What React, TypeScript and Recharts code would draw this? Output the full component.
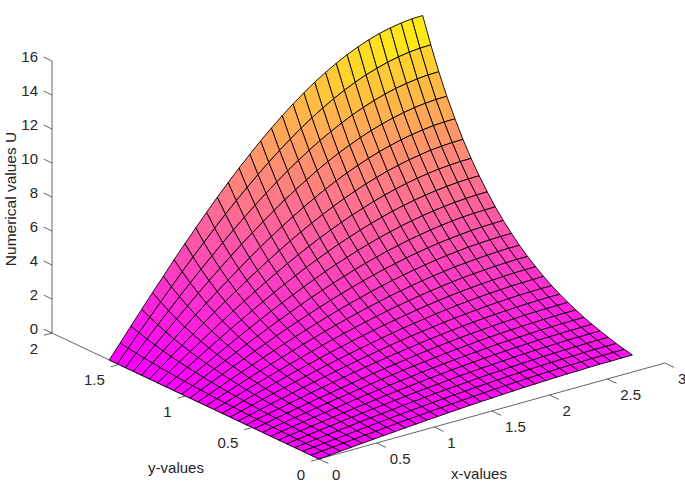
import React from "react";
import { ScatterChart, Scatter, XAxis, YAxis } from "recharts";

const xValues = [0, 0.094, 0.187, 0.281, 0.375, 0.469, 0.562, 0.656, 0.75, 0.844, 0.937, 1.031, 1.125, 1.219, 1.312, 1.406, 1.5, 1.593, 1.687, 1.781, 1.875, 1.968, 2.062, 2.156, 2.25, 2.343, 2.437, 2.531, 2.624, 2.718];
const yValues = [0, 0.06, 0.121, 0.181, 0.242, 0.302, 0.362, 0.423, 0.483, 0.544, 0.604, 0.665, 0.725, 0.785, 0.846, 0.906, 0.967, 1.027, 1.087, 1.148, 1.208, 1.269, 1.329, 1.39, 1.45, 1.51, 1.571];

// U, one row per y value
const uValues = [
  [0, 0.05, 0.11, 0.16, 0.22, 0.27, 0.32, 0.37, 0.42, 0.47, 0.52, 0.56, 0.61, 0.65, 0.69, 0.73, 0.76, 0.8, 0.83, 0.86, 0.88, 0.91, 0.93, 0.95, 0.96, 0.98, 0.99, 0.99, 1, 1],
  [0, 0.06, 0.12, 0.18, 0.24, 0.3, 0.35, 0.41, 0.47, 0.52, 0.57, 0.62, 0.67, 0.72, 0.76, 0.81, 0.85, 0.88, 0.92, 0.95, 0.98, 1.01, 1.03, 1.05, 1.07, 1.08, 1.1, 1.1, 1.11, 1.11],
  [0, 0.07, 0.13, 0.2, 0.27, 0.33, 0.39, 0.46, 0.52, 0.58, 0.64, 0.69, 0.75, 0.8, 0.85, 0.89, 0.94, 0.98, 1.02, 1.06, 1.09, 1.12, 1.15, 1.17, 1.19, 1.2, 1.22, 1.23, 1.23, 1.23],
  [0, 0.07, 0.15, 0.22, 0.29, 0.37, 0.44, 0.51, 0.57, 0.64, 0.71, 0.77, 0.83, 0.89, 0.94, 0.99, 1.04, 1.09, 1.13, 1.17, 1.21, 1.24, 1.27, 1.3, 1.32, 1.34, 1.35, 1.36, 1.37, 1.37],
  [0, 0.08, 0.16, 0.25, 0.33, 0.41, 0.49, 0.56, 0.64, 0.71, 0.78, 0.85, 0.92, 0.98, 1.04, 1.1, 1.16, 1.21, 1.26, 1.3, 1.34, 1.38, 1.41, 1.44, 1.46, 1.48, 1.5, 1.51, 1.52, 1.52],
  [0, 0.09, 0.18, 0.27, 0.36, 0.45, 0.54, 0.62, 0.71, 0.79, 0.87, 0.95, 1.02, 1.09, 1.16, 1.22, 1.29, 1.34, 1.4, 1.45, 1.49, 1.53, 1.57, 1.6, 1.63, 1.65, 1.66, 1.68, 1.68, 1.69],
  [0, 0.1, 0.2, 0.3, 0.4, 0.5, 0.6, 0.69, 0.79, 0.88, 0.97, 1.05, 1.13, 1.21, 1.29, 1.36, 1.43, 1.49, 1.55, 1.6, 1.65, 1.7, 1.74, 1.77, 1.8, 1.83, 1.85, 1.86, 1.87, 1.87],
  [0, 0.11, 0.22, 0.34, 0.45, 0.56, 0.66, 0.77, 0.87, 0.97, 1.07, 1.17, 1.26, 1.35, 1.43, 1.51, 1.58, 1.65, 1.72, 1.78, 1.84, 1.89, 1.93, 1.97, 2, 2.03, 2.05, 2.07, 2.08, 2.08],
  [0, 0.12, 0.25, 0.37, 0.5, 0.62, 0.74, 0.85, 0.97, 1.08, 1.19, 1.3, 1.4, 1.49, 1.59, 1.68, 1.76, 1.84, 1.91, 1.98, 2.04, 2.09, 2.14, 2.19, 2.22, 2.25, 2.28, 2.29, 2.3, 2.31],
  [0, 0.14, 0.28, 0.41, 0.55, 0.69, 0.82, 0.95, 1.08, 1.2, 1.32, 1.44, 1.55, 1.66, 1.76, 1.86, 1.95, 2.04, 2.12, 2.2, 2.26, 2.33, 2.38, 2.43, 2.47, 2.5, 2.53, 2.55, 2.56, 2.56],
  [0, 0.15, 0.31, 0.46, 0.61, 0.76, 0.91, 1.05, 1.19, 1.33, 1.47, 1.6, 1.72, 1.84, 1.96, 2.07, 2.17, 2.26, 2.35, 2.44, 2.51, 2.58, 2.64, 2.7, 2.74, 2.78, 2.81, 2.83, 2.84, 2.84],
  [0, 0.17, 0.34, 0.51, 0.68, 0.84, 1.01, 1.17, 1.33, 1.48, 1.63, 1.77, 1.91, 2.04, 2.17, 2.29, 2.41, 2.51, 2.61, 2.71, 2.79, 2.87, 2.93, 2.99, 3.04, 3.08, 3.12, 3.14, 3.15, 3.16],
  [0, 0.19, 0.38, 0.57, 0.75, 0.94, 1.12, 1.3, 1.47, 1.64, 1.81, 1.97, 2.12, 2.27, 2.41, 2.55, 2.67, 2.79, 2.9, 3, 3.1, 3.18, 3.26, 3.32, 3.38, 3.42, 3.46, 3.49, 3.5, 3.51],
  [0, 0.21, 0.42, 0.63, 0.84, 1.04, 1.24, 1.44, 1.63, 1.82, 2.01, 2.18, 2.36, 2.52, 2.68, 2.83, 2.97, 3.1, 3.22, 3.34, 3.44, 3.53, 3.62, 3.69, 3.75, 3.8, 3.84, 3.87, 3.89, 3.89],
  [0, 0.23, 0.47, 0.7, 0.93, 1.16, 1.38, 1.6, 1.81, 2.02, 2.23, 2.43, 2.62, 2.8, 2.97, 3.14, 3.29, 3.44, 3.58, 3.7, 3.82, 3.92, 4.01, 4.1, 4.16, 4.22, 4.26, 4.3, 4.32, 4.32],
  [0, 0.26, 0.52, 0.78, 1.03, 1.28, 1.53, 1.78, 2.01, 2.25, 2.47, 2.69, 2.9, 3.11, 3.3, 3.48, 3.66, 3.82, 3.97, 4.11, 4.24, 4.35, 4.46, 4.55, 4.62, 4.69, 4.73, 4.77, 4.79, 4.8],
  [0, 0.29, 0.58, 0.86, 1.15, 1.42, 1.7, 1.97, 2.24, 2.5, 2.75, 2.99, 3.22, 3.45, 3.66, 3.87, 4.06, 4.24, 4.41, 4.56, 4.71, 4.83, 4.95, 5.05, 5.13, 5.2, 5.26, 5.3, 5.32, 5.33],
  [0, 0.32, 0.64, 0.96, 1.27, 1.58, 1.89, 2.19, 2.48, 2.77, 3.05, 3.32, 3.58, 3.83, 4.07, 4.29, 4.51, 4.71, 4.89, 5.07, 5.22, 5.37, 5.49, 5.6, 5.7, 5.78, 5.84, 5.88, 5.9, 5.91],
  [0, 0.36, 0.71, 1.06, 1.41, 1.76, 2.1, 2.43, 2.76, 3.08, 3.39, 3.68, 3.97, 4.25, 4.52, 4.77, 5, 5.23, 5.43, 5.63, 5.8, 5.96, 6.1, 6.22, 6.33, 6.41, 6.48, 6.53, 6.56, 6.57],
  [0, 0.39, 0.79, 1.18, 1.57, 1.95, 2.33, 2.7, 3.06, 3.41, 3.76, 4.09, 4.41, 4.72, 5.01, 5.29, 5.56, 5.8, 6.03, 6.25, 6.44, 6.62, 6.77, 6.91, 7.02, 7.12, 7.19, 7.25, 7.28, 7.29],
  [0, 0.44, 0.87, 1.31, 1.74, 2.16, 2.58, 3, 3.4, 3.79, 4.17, 4.54, 4.9, 5.24, 5.57, 5.88, 6.17, 6.44, 6.7, 6.93, 7.15, 7.34, 7.52, 7.67, 7.8, 7.9, 7.99, 8.04, 8.08, 8.09],
  [0, 0.49, 0.97, 1.45, 1.93, 2.4, 2.87, 3.33, 3.77, 4.21, 4.63, 5.04, 5.44, 5.82, 6.18, 6.52, 6.85, 7.15, 7.44, 7.7, 7.94, 8.15, 8.35, 8.51, 8.66, 8.77, 8.87, 8.93, 8.97, 8.98],
  [0, 0.54, 1.08, 1.61, 2.14, 2.67, 3.18, 3.69, 4.19, 4.67, 5.14, 5.6, 6.04, 6.46, 6.86, 7.24, 7.6, 7.94, 8.26, 8.55, 8.81, 9.05, 9.27, 9.45, 9.61, 9.74, 9.84, 9.92, 9.96, 9.97],
  [0, 0.6, 1.2, 1.79, 2.38, 2.96, 3.54, 4.1, 4.65, 5.19, 5.71, 6.21, 6.7, 7.17, 7.62, 8.04, 8.44, 8.82, 9.17, 9.49, 9.78, 10.05, 10.29, 10.49, 10.67, 10.81, 10.93, 11.01, 11.06, 11.07],
  [0, 0.67, 1.33, 1.99, 2.64, 3.29, 3.93, 4.55, 5.16, 5.76, 6.34, 6.9, 7.44, 7.96, 8.45, 8.93, 9.37, 9.79, 10.18, 10.53, 10.86, 11.16, 11.42, 11.65, 11.85, 12.01, 12.13, 12.22, 12.28, 12.29],
  [0, 0.74, 1.48, 2.21, 2.93, 3.65, 4.36, 5.05, 5.73, 6.39, 7.04, 7.66, 8.26, 8.84, 9.39, 9.91, 10.4, 10.87, 11.3, 11.7, 12.06, 12.39, 12.68, 12.94, 13.15, 13.33, 13.47, 13.57, 13.63, 13.65],
  [0, 0.82, 1.64, 2.45, 3.26, 4.05, 4.84, 5.61, 6.36, 7.1, 7.81, 8.5, 9.17, 9.81, 10.42, 11, 11.55, 12.06, 12.54, 12.99, 13.39, 13.75, 14.08, 14.36, 14.6, 14.8, 14.95, 15.06, 15.13, 15.15],
];

const xTicks = [0, 0.5, 1, 1.5, 2, 2.5, 3];
const yTicks = [0, 0.5, 1, 1.5, 2];
const zTicks = [0, 2, 4, 6, 8, 10, 12, 14, 16];

const NX = xValues.length;
const NY = yValues.length;
const uMax = 15.15;

const TEXT = "#262626";
const FONT = "Liberation Sans, Arial, sans-serif";

// 3d view flattened to the chart's plane
const project = (x: number, y: number, z: number) => ({
  u: 319 + 115.3 * x - 133.5 * y,
  v: 459 - 32 * x - 63 * y - 17 * z,
});

const vertices = uValues.flatMap((row, j) =>
  row.map((z, i) => project(xValues[i], yValues[j], z))
);

const segments = [
  [project(0, 0, 0), project(3, 0, 0)],
  [project(0, 0, 0), project(0, 2, 0)],
  [project(0, 2, 0), project(0, 2, 16)],
  ...xTicks.map((t) => [project(t, 0, 0), project(t, -0.07, 0)]),
  ...yTicks.map((t) => [project(0, t, 0), project(-0.07, t, 0)]),
  ...zTicks.map((t) => [project(0, 2, t), project(0, 2.0625, t)]),
].flat();

const xLabels = xTicks.map((t) => ({ ...project(t, 0, 0), label: String(t), dx: 13, dy: 15, anchor: "start" }));
const yLabels = yTicks.map((t) => ({ ...project(0, t, 0), label: String(t), dx: -14, dy: 15, anchor: "end" }));
const zLabels = zTicks.map((t) => ({ ...project(0, 2, t), label: String(t), dx: -14, dy: -5, anchor: "end" }));

// spring colormap, 64 levels
const colorOf = (z: number) => {
  const t = Math.min(1, Math.max(0, z / uMax));
  const lvl = Math.floor(t * 63.999) / 63;
  return `rgb(255,${Math.round(lvl * 255)},${Math.round((1 - lvl) * 255)})`;
};

const Blank = () => null;

const TickText = (p: any) => (
  <text
    x={p.cx + p.payload.dx}
    y={p.cy + p.payload.dy}
    textAnchor={p.payload.anchor}
    dominantBaseline="central"
    fontFamily={FONT}
    fontSize={15}
    fill={TEXT}
  >
    {p.payload.label}
  </text>
);

const renderSegments = (p: any) => {
  const out: React.ReactNode[] = [];
  for (let k = 0; k + 1 < p.points.length; k += 2) {
    const a = p.points[k];
    const b = p.points[k + 1];
    out.push(<line key={k} x1={a.x} y1={a.y} x2={b.x} y2={b.y} stroke="#3c3c3c" strokeWidth={0.8} />);
  }
  return <g>{out}</g>;
};

// far cells first so the near ones paint over them
const renderMesh = (p: any) => {
  const at = (i: number, j: number) => p.points[j * NX + i];
  const out: React.ReactNode[] = [];
  for (let j = NY - 2; j >= 0; j--) {
    for (let i = NX - 2; i >= 0; i--) {
      const q = [at(i, j), at(i + 1, j), at(i + 1, j + 1), at(i, j + 1)];
      out.push(
        <polygon
          key={`${i}-${j}`}
          points={q.map((c) => `${c.x},${c.y}`).join(" ")}
          fill={colorOf(uValues[j][i])}
          stroke="#000"
          strokeWidth={0.9}
        />
      );
    }
  }
  return <g>{out}</g>;
};

export default function App() {
  return (
    <div style={{ position: "fixed", left: 0, top: 0, background: "#fff" }}>
      <ScatterChart width={685} height={483} margin={{ top: 0, right: 0, bottom: 0, left: 0 }}>
        <XAxis type="number" dataKey="u" domain={[0, 685]} hide />
        <YAxis type="number" dataKey="v" domain={[0, 483]} reversed hide />
        <Scatter data={segments} line={renderSegments} shape={Blank} isAnimationActive={false} />
        <Scatter data={vertices} line={renderMesh} shape={Blank} isAnimationActive={false} />
        <Scatter data={xLabels} shape={TickText} isAnimationActive={false} />
        <Scatter data={yLabels} shape={TickText} isAnimationActive={false} />
        <Scatter data={zLabels} shape={TickText} isAnimationActive={false} />
        <text x={479} y={473} textAnchor="middle" dominantBaseline="central" fontFamily={FONT} fontSize={15} fill={TEXT}>
          x-values
        </text>
        <text x={176} y={467} textAnchor="middle" dominantBaseline="central" fontFamily={FONT} fontSize={15} fill={TEXT}>
          y-values
        </text>
        <text x={10} y={199} transform="rotate(-90 10 199)" textAnchor="middle" dominantBaseline="central" fontFamily={FONT} fontSize={15.5} fill={TEXT}>
          Numerical values U
        </text>
      </ScatterChart>
    </div>
  );
}
